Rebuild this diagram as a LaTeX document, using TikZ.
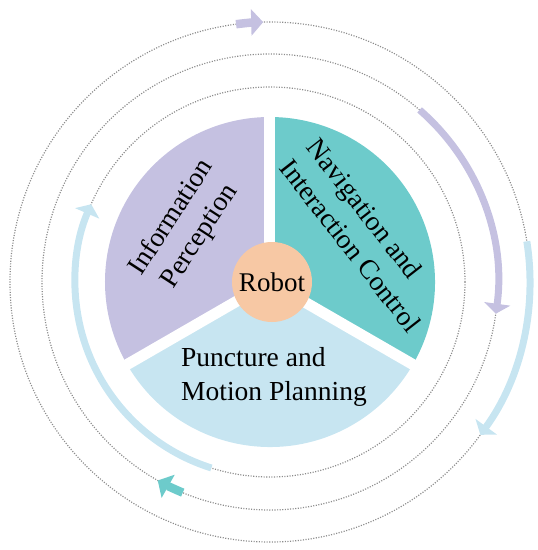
\documentclass[tikz,border=0pt]{standalone}
\usepackage{fontspec}
\setmainfont{Liberation Serif}
\usepackage{tikz}
\usetikzlibrary{arrows.meta}
\definecolor{lav}{HTML}{C5C1E1}
\definecolor{aqua}{HTML}{6DCBCB}
\definecolor{sky}{HTML}{C7E5F1}
\definecolor{peach}{HTML}{F7C8A4}
\tikzset{
	orbit/.style={draw=black!45, line width=1.2pt, dash pattern=on 1.1pt off 1.5pt},
	flow/.style={line width=7pt, -{Triangle[width=26pt,length=10pt]}},
	stub/.style={line width=8.5pt, -{Triangle[width=26pt,length=12pt]}}
}

\begin{document}
\begin{tikzpicture}[
	x=1pt, y=1pt,
	t/.style={font=\fontsize{27.5}{34}\selectfont, align=center, inner sep=0pt},
	gap/.style={white, line width=11pt}]
	\useasboundingbox (-270,-268) rectangle (268,282);
	\draw[orbit] (0,0) circle[radius=195pt];
	\draw[orbit] (0,0) circle[radius=228pt];
	\draw[orbit] (0,0) circle[radius=260pt];
	\fill[lav] (0,0) -- (90:165pt) arc[start angle=90, end angle=210, radius=165pt] -- cycle;
	\fill[aqua] (0,0) -- (-30:165pt) arc[start angle=-30, end angle=90, radius=165pt] -- cycle;
	\fill[sky] (0,0) -- (210:165pt) arc[start angle=210, end angle=330, radius=165pt] -- cycle;
	\foreach \a in {90,210,330} \draw[gap] (0,0) -- (\a:172pt);
	\node[circle, fill=peach, t, minimum size=80pt, font=\fontsize{27}{32}\selectfont] (robot) at (2,0) {Robot};
	\node[t, rotate=57] (info) at (-84,55) {Information\\Perception};
	\node[t, align=left, rotate=-52] (nav) at (94,47) {Navigation and\\Interaction Control};
	\node[t, align=left] (punct) at (4,-95) {Puncture and\\Motion Planning};
	\draw[stub, lav] (97.5:260pt) arc[start angle=97.5, end angle=91.5, radius=260pt];
	\draw[flow, lav] (49:228pt) arc[start angle=49, end angle=-8, radius=228pt];
	\draw[flow, sky] (9:260pt) arc[start angle=9, end angle=-36, radius=260pt];
	\draw[stub, aqua] (247.5:228pt) arc[start angle=247.5, end angle=240.5, radius=228pt];
	\draw[flow, sky] (252.5:195pt) arc[start angle=252.5, end angle=156.5, radius=195pt];
\end{tikzpicture}
\end{document}
